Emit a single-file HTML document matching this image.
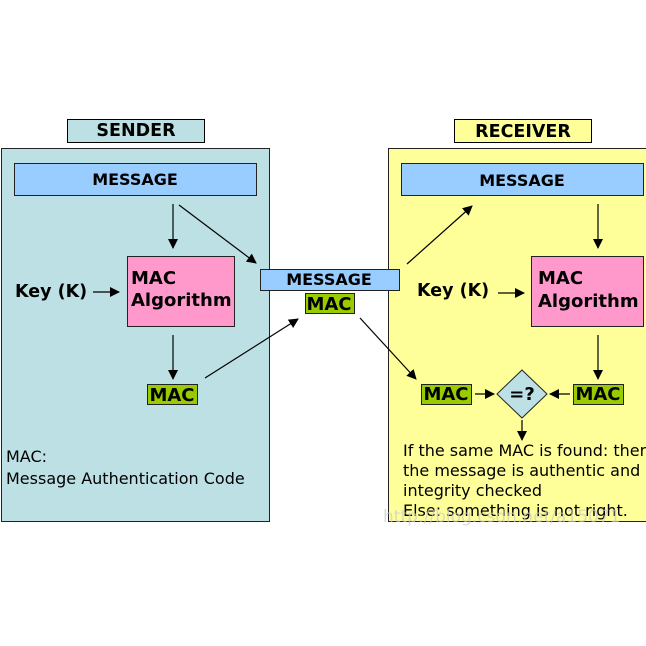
<!DOCTYPE html>
<html><head><style>body{margin:0;background:#fff}svg{display:block}text{font-family:"DejaVu Sans","Liberation Sans",sans-serif}</style></head><body>
<svg width="646" height="646" viewBox="0 0 646 646" xmlns="http://www.w3.org/2000/svg">
<defs><marker id="a" markerWidth="10" markerHeight="10" refX="9" refY="5" orient="auto" markerUnits="userSpaceOnUse"><path d="M0,0 L10,5 L0,10 z" fill="#000"/></marker></defs>
<rect x="1.5" y="148.5" width="268" height="373" fill="#bce0e3" stroke="#222"/>
<rect x="388.5" y="148.5" width="270" height="373" fill="#ffff99" stroke="#222"/>
<rect x="67.5" y="119.5" width="137" height="23" fill="#bce0e3" stroke="#000"/>
<text x="136" y="136" font-size="17.5" font-weight="bold" text-anchor="middle">SENDER</text>
<rect x="454.5" y="119.5" width="137" height="23" fill="#ffff99" stroke="#000"/>
<text x="523" y="137" font-size="17.5" font-weight="bold" text-anchor="middle">RECEIVER</text>
<rect x="14.5" y="163.5" width="242" height="32" fill="#99ccff" stroke="#222"/>
<text x="135" y="185" font-size="16" font-weight="bold" text-anchor="middle">MESSAGE</text>
<rect x="401.5" y="163.5" width="242" height="32" fill="#99ccff" stroke="#222"/>
<text x="522" y="186" font-size="16" font-weight="bold" text-anchor="middle">MESSAGE</text>
<rect x="127.5" y="256.5" width="107" height="70" fill="#ff99cc" stroke="#222"/>
<text x="131" y="284" font-size="18" font-weight="bold">MAC</text>
<text x="131" y="306" font-size="18" font-weight="bold">Algorithm</text>
<rect x="531.5" y="256.5" width="112" height="70" fill="#ff99cc" stroke="#222"/>
<text x="538" y="284" font-size="18" font-weight="bold">MAC</text>
<text x="538" y="307" font-size="18" font-weight="bold">Algorithm</text>
<text x="15" y="297" font-size="17.5" font-weight="bold">Key (K)</text>
<text x="417" y="296" font-size="17.5" font-weight="bold">Key (K)</text>
<rect x="260.5" y="269.5" width="139" height="21" fill="#99ccff" stroke="#222"/>
<text x="329" y="285" font-size="16" font-weight="bold" text-anchor="middle">MESSAGE</text>
<rect x="305.5" y="293.5" width="49" height="20" fill="#99cc00" stroke="#222"/>
<text x="329" y="310" font-size="18" font-weight="bold" text-anchor="middle">MAC</text>
<rect x="147.5" y="384.5" width="50" height="20" fill="#99cc00" stroke="#222"/>
<text x="172" y="401" font-size="18" font-weight="bold" text-anchor="middle">MAC</text>
<rect x="421.5" y="384.5" width="50" height="20" fill="#99cc00" stroke="#222"/>
<text x="446" y="400" font-size="18" font-weight="bold" text-anchor="middle">MAC</text>
<rect x="573.5" y="384.5" width="50" height="20" fill="#99cc00" stroke="#222"/>
<text x="598" y="400" font-size="18" font-weight="bold" text-anchor="middle">MAC</text>
<path d="M522,370 L547,394 L522,418 L497,394 z" fill="#bce0e3" stroke="#222"/>
<text x="522" y="400" font-size="18" font-weight="bold" text-anchor="middle">=?</text>
<g stroke="#000" stroke-width="1.2" fill="none" marker-end="url(#a)">
<line x1="173" y1="204" x2="173" y2="248"/>
<line x1="179" y1="205" x2="256" y2="263"/>
<line x1="93" y1="292" x2="119" y2="292"/>
<line x1="173" y1="335" x2="173" y2="379"/>
<line x1="205" y1="378" x2="298" y2="319"/>
<line x1="360" y1="318" x2="416" y2="379"/>
<line x1="407" y1="264" x2="472" y2="206"/>
<line x1="598" y1="204" x2="598" y2="248"/>
<line x1="498" y1="293" x2="524" y2="293"/>
<line x1="598" y1="335" x2="598" y2="379"/>
<line x1="475" y1="394" x2="494" y2="394"/>
<line x1="570" y1="394" x2="550" y2="394"/>
<line x1="522" y1="420" x2="522" y2="440"/>
</g>
<text x="6" y="462" font-size="16">MAC:</text>
<text x="6" y="484" font-size="16">Message Authentication Code</text>
<g font-size="16"><text x="403" y="456">If the same MAC is found: then</text>
<text x="403" y="476">the message is authentic and</text>
<text x="403" y="496">integrity checked</text>
<text x="403" y="516">Else: something is not right.</text></g>
<text x="383" y="522" font-size="17" fill="#ccc" opacity="0.7" font-family="Liberation Serif,serif">http://blog.csdn.net/a15071</text>
</svg>
</body></html>
